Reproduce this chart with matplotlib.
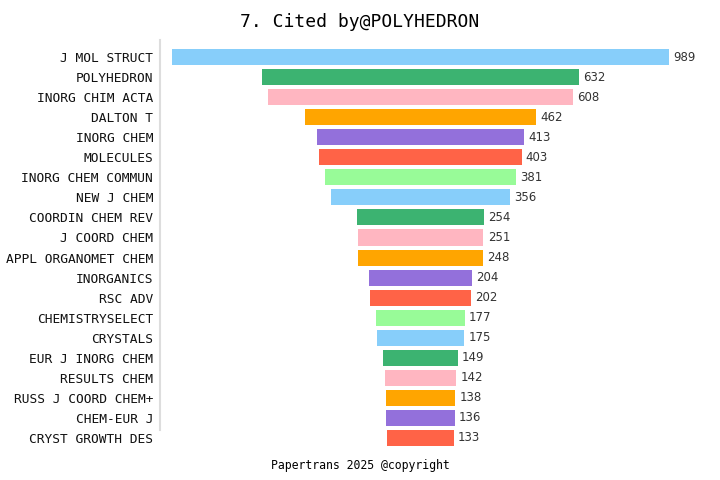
import numpy as np
import matplotlib
matplotlib.use('Agg')
import matplotlib.pyplot as plt

journals = ['J MOL STRUCT', 'POLYHEDRON', 'INORG CHIM ACTA', 'DALTON T', 'INORG CHEM',
            'MOLECULES', 'INORG CHEM COMMUN', 'NEW J CHEM', 'COORDIN CHEM REV', 'J COORD CHEM',
            'APPL ORGANOMET CHEM', 'INORGANICS', 'RSC ADV', 'CHEMISTRYSELECT', 'CRYSTALS',
            'EUR J INORG CHEM', 'RESULTS CHEM', 'RUSS J COORD CHEM+', 'CHEM-EUR J', 'CRYST GROWTH DES']
counts = [989, 632, 608, 462, 413, 403, 381, 356, 254, 251,
          248, 204, 202, 177, 175, 149, 142, 138, 136, 133]
palette = ['#87CEFA', '#3CB371', '#FFB6C1', '#FFA500', '#9370DB', '#FF6347', '#98FB98']

counts = np.array(counts)
y = np.arange(len(journals))
colors = [palette[i % len(palette)] for i in range(len(journals))]

fig = plt.figure(figsize=(7.2, 4.8), dpi=100)
ax = fig.add_axes([160/720, 1 - 450/480, 521/720, 410/480])

# funnel: every bar centred on zero
ax.barh(y, counts, left=-counts/2, height=0.8, color=colors, clip_on=False)
for yi, v in zip(y, counts):
    ax.annotate(str(v), (v/2, yi), xytext=(3, 0), textcoords='offset points',
                va='center', ha='left', fontsize=8.5, color='#333333', family='DejaVu Sans')

half = counts.max() * 0.525
ax.set_xlim(-half, half)
ax.set_ylim(19.6, -0.85)
ax.set_yticks(y)
ax.set_yticklabels(journals, family='DejaVu Sans Mono', fontsize=9.3, color='#111111')
ax.tick_params(axis='y', length=0, pad=5)
ax.set_xticks([])
for s in ['top', 'right', 'bottom']:
    ax.spines[s].set_visible(False)
ax.spines['left'].set_color('#dddddd')
ax.spines['left'].set_linewidth(1.5)
ax.spines['left'].set_bounds(-0.85, 18.6)

fig.text(0.5, 1 - 22/480, '7. Cited by@POLYHEDRON', ha='center', va='center',
         family='DejaVu Sans Mono', fontsize=13)
fig.text(0.5, 1 - 466/480, 'Papertrans 2025 @copyright', ha='center', va='center',
         family='DejaVu Sans Mono', fontsize=8.3)

fig.savefig('out.png', dpi=100)
